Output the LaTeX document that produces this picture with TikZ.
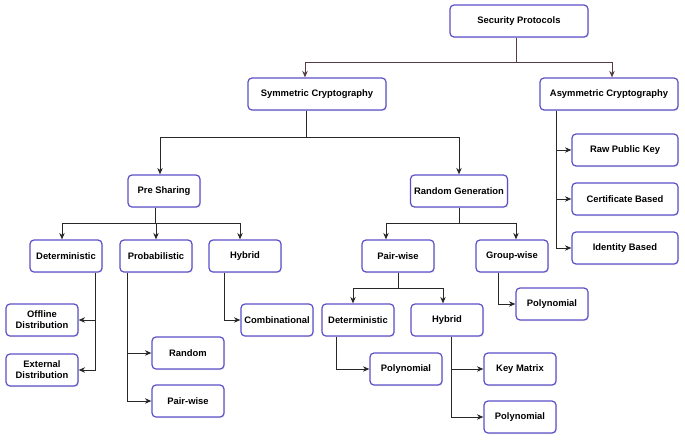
\documentclass[tikz,border=0pt]{standalone}
\usepackage{fontspec}
\setmainfont{Liberation Sans}
\usetikzlibrary{positioning, arrows.meta, shadows}

\definecolor{boxline}{RGB}{92,80,200}
\definecolor{topline}{RGB}{85,60,66}
\definecolor{subline}{RGB}{40,40,40}

\begin{document}
\begin{tikzpicture}[x=1pt, y=-1pt, node distance=2cm, on grid,
   box/.style={draw=boxline, line width=1.2pt, rounded corners=4pt, fill=white,
      minimum width=72pt, minimum height=32pt, align=center, inner sep=1pt,
      font=\bfseries\fontsize{9.4}{11}\selectfont,
      drop shadow={opacity=0.18, shadow xshift=1pt, shadow yshift=-1.2pt}},
   wide/.style={minimum width=138pt},
   conn/.style={draw=subline, line width=1pt, -{Stealth[length=6.5pt, width=5.5pt]}},
   topconn/.style={conn, draw=topline}]
   \useasboundingbox (0,0) rectangle (685,442);

   % Root and first level
   \node[box, wide] (sec) at (519,21) {Security Protocols};
   \node[box, wide] (sym) [below left=73pt and 202pt of sec] {Symmetric Cryptography};
   \node[box, wide] (asym) [below right=73pt and 90pt of sec] {Asymmetric Cryptography};

   % Symmetric branch
   \node[box] (pre) [below left=97pt and 153pt of sym] {Pre Sharing};
   \node[box, minimum width=97pt] (rgen) [below right=97pt and 142pt of sym] {Random Generation};

   % Pre sharing children
   \node[box] (det) [below left=65pt and 98pt of pre] {Deterministic};
   \node[box] (prob) [below left=65pt and 8pt of pre] {Probabilistic};
   \node[box] (hyb) [below right=65pt and 81pt of pre] {Hybrid};
   \node[box] (off) [below left=64pt and 24pt of det] {Offline\\Distribution};
   \node[box] (ext) [below=50pt of off] {External\\Distribution};
   \node[box] (rnd) [below right=97pt and 32pt of prob] {Random};
   \node[box] (pw) [below=48pt of rnd] {Pair-wise};
   \node[box] (comb) [below right=64pt and 32pt of hyb] {Combinational};

   % Random generation children
   \node[box] (pair) [below left=65pt and 61pt of rgen] {Pair-wise};
   \node[box] (grp) [below right=65pt and 53pt of rgen] {Group-wise};
   \node[box] (gpoly) [below right=48pt and 40pt of grp] {Polynomial};
   \node[box] (det2) [below left=64pt and 40pt of pair] {Deterministic};
   \node[box] (hyb2) [below right=64pt and 49pt of pair] {Hybrid};
   \node[box] (dpoly) [below right=49pt and 48pt of det2] {Polynomial};
   \node[box] (kmat) [below right=49pt and 73pt of hyb2] {Key Matrix};
   \node[box] (hpoly) [below=48pt of kmat] {Polynomial};

   % Asymmetric branch
   \node[box, minimum width=106pt] (raw) [below right=56pt and 16pt of asym] {Raw Public Key};
   \node[box, minimum width=106pt] (cert) [below=49pt of raw] {Certificate Based};
   \node[box, minimum width=106pt] (iden) [below=49pt of cert] {Identity Based};

   % Connectors
   \draw[topconn] ([xshift=-3pt]sec.south) -- ++(0,25) -| ([xshift=-12pt]sym.north);
   \draw[topconn] ([xshift=-3pt]sec.south) -- ++(0,25) -| ([xshift=3pt]asym.north);

   \draw[conn] ([xshift=-11pt]sym.south) -- ++(0,27) -| ([xshift=-4pt]pre.north);
   \draw[conn] ([xshift=-11pt]sym.south) -- ++(0,27) -| (rgen.north);

   \draw[conn] ([xshift=-9pt]pre.south) -- ++(0,16) -| ([xshift=-4pt]det.north);
   \draw[conn] ([xshift=-9pt]pre.south) -- ++(0,16) -| (prob.north);
   \draw[conn] ([xshift=-9pt]pre.south) -- ++(0,16) -| ([xshift=-5pt]hyb.north);

   \draw[conn] ([xshift=-7pt]det.south east) |- (off.east);
   \draw[conn] ([xshift=-7pt]det.south east) |- (ext.east);
   \draw[conn] ([xshift=8pt]prob.south west) |- (rnd.west);
   \draw[conn] ([xshift=8pt]prob.south west) |- (pw.west);
   \draw[conn] ([xshift=16pt]hyb.south west) |- (comb.west);

   \draw[conn] (rgen.south) -- ++(0,16) -| ([xshift=-12pt]pair.north);
   \draw[conn] (rgen.south) -- ++(0,16) -| ([xshift=4pt]grp.north);
   \draw[conn] ([xshift=23pt]grp.south west) |- (gpoly.west);

   \draw[conn] (pair.south) -- ++(0,16) -| ([xshift=-5pt]det2.north);
   \draw[conn] (pair.south) -- ++(0,16) -| ([xshift=-4pt]hyb2.north);
   \draw[conn] ([xshift=15pt]det2.south west) |- (dpoly.west);
   \draw[conn] ([xshift=4pt]hyb2.south) |- (kmat.west);
   \draw[conn] ([xshift=4pt]hyb2.south) |- (hpoly.west);

   \draw[conn] ([xshift=17pt]asym.south west) |- (raw.west);
   \draw[conn] ([xshift=17pt]asym.south west) |- (cert.west);
   \draw[conn] ([xshift=17pt]asym.south west) |- (iden.west);
\end{tikzpicture}
\end{document}
